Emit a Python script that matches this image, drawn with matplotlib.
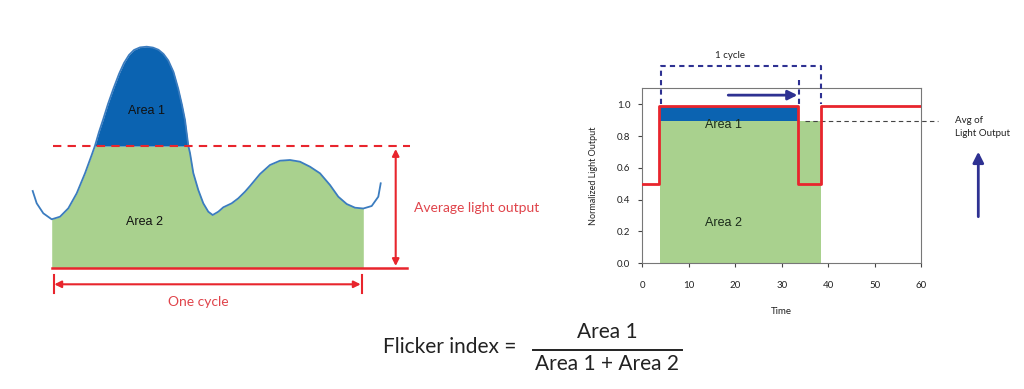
import numpy as np
import matplotlib
matplotlib.use("Agg")
import matplotlib.pyplot as plt

plt.rcParams['font.family'] = ['Lato', 'DejaVu Sans']

# ---- left schematic: waveform (pixel coords) ----
curve_x = [32.7, 36.7, 43.3, 51.7, 60.0, 68.3, 76.7, 85.0, 91.7, 95.0,
           99.0, 103.3, 108.0, 113.3, 119.0, 124.0, 129.0, 134.0, 140.0, 146.7,
           153.0, 158.5, 163.5, 168.3, 173.5, 178.3, 182.0, 185.0, 188.3, 190.0,
           193.3, 198.3, 203.3, 208.3, 212.7, 218.3, 223.3, 231.7, 238.3, 245.0,
           250.0, 260.0, 270.0, 280.0, 290.0, 300.0, 310.0, 320.0, 330.0, 338.3,
           346.7, 355.0, 363.3, 371.7, 378.3, 380.7]
curve_y = [191.0, 203.3, 213.3, 219.3, 216.7, 208.3, 193.3, 173.3, 155.0, 145.7,
           132.0, 119.0, 104.0, 89.0, 74.0, 63.0, 55.0, 50.0, 47.4, 46.7,
           47.6, 49.8, 54.0, 60.5, 72.0, 89.0, 105.0, 120.0, 145.7, 153.0,
           173.0, 190.0, 203.3, 211.7, 215.0, 211.7, 207.3, 203.3, 198.3, 191.7,
           186.0, 174.0, 165.0, 160.7, 160.0, 161.7, 166.7, 173.3, 185.0, 196.7,
           204.0, 207.7, 208.5, 206.0, 196.7, 183.3]
avg_px = 146.0
base_px = 267.7
cycle_start_px = 51.7
cycle_end_px = 363.3

# ---- right chart: square-wave light output ----
time_edges = [0, 3.6, 33.6, 38.5, 60]
levels = [0.5, 0.99, 0.5, 0.99, 0.99]
avg_level = 0.895
on_start, on_end, cycle_end = 3.8, 33.6, 38.4
x_ticks = [0, 10, 20, 30, 40, 50, 60]
y_ticks = [0.0, 0.2, 0.4, 0.6, 0.8, 1.0]

RED = '#e8252d'
RED_TXT = '#e0444b'
GREEN = '#a9d18e'
BLUE_FILL = '#0b63b1'
BLUE_LINE = '#3b7cbf'
NAVY = '#2e3192'

W, H = 1024, 389
fig = plt.figure(figsize=(W / 100, H / 100), dpi=100)
fig.patch.set_facecolor('white')

ov = fig.add_axes([0, 0, 1, 1])
ov.set_xlim(0, W)
ov.set_ylim(H, 0)
ov.axis('off')
ov.patch.set_alpha(0)

cx = np.array(curve_x)
cy = np.array(curve_y)
inside = (cx >= cycle_start_px) & (cx <= cycle_end_px)
ov.fill_between(cx, np.maximum(cy, avg_px), base_px, where=inside,
                color=GREEN, lw=0, zorder=1)
ov.fill_between(cx, cy, avg_px, where=cy <= avg_px, interpolate=True,
                color=BLUE_FILL, lw=0, zorder=1)
ov.plot(cx, cy, color=BLUE_LINE, lw=1.3, zorder=2, solid_joinstyle='round')

ov.plot([53.3, 410], [avg_px, avg_px], color=RED, lw=1.5, ls=(0, (4, 3)), zorder=3)
ov.plot([cycle_start_px, 407], [base_px, base_px], color=RED, lw=1.8, zorder=3)

ov.annotate('', xy=(395.7, 149), xytext=(395.7, 266),
            arrowprops=dict(arrowstyle='<|-|>', color=RED, lw=1.5,
                            mutation_scale=10, shrinkA=0, shrinkB=0))
ov.annotate('', xy=(54.3, 284.3), xytext=(360.7, 284.3),
            arrowprops=dict(arrowstyle='<|-|>', color=RED, lw=1.5,
                            mutation_scale=10, shrinkA=0, shrinkB=0))
ov.plot([53.5, 53.5], [275, 293], color=RED, lw=1.5)
ov.plot([361.5, 361.5], [275, 293], color=RED, lw=1.5)

ov.text(477, 208.3, 'Average light output', color=RED_TXT, fontsize=10,
        ha='center', va='center')
ov.text(198, 302, 'One cycle', color=RED_TXT, fontsize=10,
        ha='center', va='center')
ov.text(146.5, 110.5, 'Area 1', family='Liberation Sans', fontsize=9,
        color='#111111', ha='center', va='center', zorder=4)
ov.text(145, 221.7, 'Area 2', family='Liberation Sans', fontsize=9,
        color='#111111', ha='center', va='center', zorder=4)

# upward arrow next to the right chart
ov.annotate('', xy=(978.3, 151.7), xytext=(978.3, 216.7),
            arrowprops=dict(arrowstyle='-|>', color=NAVY, lw=2,
                            mutation_scale=16, shrinkA=0, shrinkB=0))

# formula
ov.text(450, 346.7, 'Flicker index =', fontsize=15, color='#222222',
        ha='center', va='center')
ov.text(607, 332, 'Area 1', fontsize=15, color='#222222',
        ha='center', va='center')
ov.plot([533.3, 682], [350, 350], color='#222222', lw=1.4)
ov.text(607, 364, 'Area 1 + Area 2', fontsize=15, color='#222222',
        ha='center', va='center')

# ---- right axes ----
l, r, t, b = 642.3, 921.0, 88.3, 263.3
ax = fig.add_axes([l / W, (H - b) / H, (r - l) / W, (b - t) / H])
ax.set_xlim(0, 60)
ax.set_ylim(0, 1.1)

ax.fill_between([on_start, cycle_end], 0, avg_level, color=GREEN, lw=0, zorder=1)
ax.fill_between([on_start, on_end], avg_level, levels[1], color=BLUE_FILL,
                lw=0, zorder=1)
ax.plot(time_edges, levels, drawstyle='steps-post', color=RED, lw=2, zorder=3)
ax.plot([35, 63.7], [avg_level, avg_level], color='#444444', lw=0.8,
        ls=(0, (4, 3)), clip_on=False, zorder=2)

ax.plot([3.96, 3.96, 38.47, 38.47], [1.0, 1.24, 1.24, 1.0], color=NAVY, lw=1.5,
        ls=(0, (2.5, 2)), clip_on=False, zorder=4)
ax.plot([33.7, 33.7], [1.15, 1.0], color=NAVY, lw=1.5, ls=(0, (2.5, 2)),
        clip_on=False, zorder=4)
ax.annotate('', xy=(33.4, 1.057), xytext=(18.5, 1.057), annotation_clip=False,
            arrowprops=dict(arrowstyle='-|>', color=NAVY, lw=2,
                            mutation_scale=14, shrinkA=0, shrinkB=0))
ax.text(18.9, 1.307, '1 cycle', fontsize=7, color='#222222',
        ha='center', va='center', clip_on=False)

ax.text(17.4, 0.868, 'Area 1', family='Liberation Sans', fontsize=9,
        color='#1a2a1a', ha='center', va='center', zorder=5)
ax.text(17.4, 0.255, 'Area 2', family='Liberation Sans', fontsize=9,
        color='#1a2a1a', ha='center', va='center', zorder=5)
ax.text(1.122, 0.78, 'Avg of\nLight Output', transform=ax.transAxes, fontsize=7,
        color='#222222', ha='left', va='center', linespacing=1.5)

ax.set_xticks(x_ticks)
ax.set_yticks(y_ticks)
ax.set_yticklabels([f'{v:.1f}' for v in y_ticks])
ax.tick_params(direction='out', length=3, width=0.8, colors='#444444',
               labelsize=7, labelcolor='#222222')
ax.tick_params(axis='x', pad=10)
ax.tick_params(axis='y', pad=5.5)
for s in ax.spines.values():
    s.set_color('#777777')
    s.set_linewidth(0.8)
ax.set_xlabel('Time', fontsize=7, color='#222222', labelpad=12)
ax.set_ylabel('Normalized Light Output', fontsize=6.5, color='#222222',
              labelpad=14)

fig.savefig('out.png', dpi=100, facecolor='white')
